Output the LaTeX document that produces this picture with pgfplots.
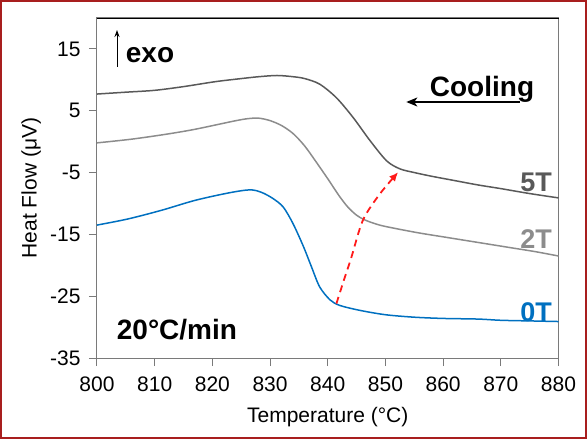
\documentclass[border=0pt]{standalone}
\usepackage{fontspec}
\setmainfont{Liberation Sans}
\usepackage{pgfplots}
\pgfplotsset{compat=1.18}
\usetikzlibrary{arrows.meta}
\definecolor{c5}{HTML}{595959}
\definecolor{c2}{HTML}{8C8C8C}
\definecolor{c0}{HTML}{0070C0}
\definecolor{frm}{HTML}{A81E1E}
\definecolor{axg}{HTML}{7A7A7A}
\definecolor{arr}{HTML}{FF1A1A}
\begin{document}
\begin{tikzpicture}
\path[use as bounding box] (-97pt,-81pt) rectangle (491pt,358pt);
\begin{axis}[
  at={(0,0)}, anchor=south west,
  scale only axis, width=461.5pt, height=340pt,
  xmin=800, xmax=880, ymin=-35, ymax=20,
  xtick={800,810,820,830,840,850,860,870,880},
  xticklabels={800,810,820,830,840,850,860,870,880},
  ytick={-35,-25,-15,-5,5,15},
  yticklabels={-35,-25,-15,-5,5,15},
  tick align=outside, tick pos=left,
  major tick length=8pt,
  tick style={axg, line width=1pt},
  axis line style={axg, line width=1pt},
  ticklabel style={font=\fontsize{21}{24}\selectfont},
  xticklabel style={yshift=-7pt},
  yticklabel style={xshift=-5pt},
  xlabel={Temperature (°C)},
  ylabel={Heat Flow (μV)},
  every axis x label/.style={at={(axis description cs:0.5,-0.191)},anchor=base,font=\fontsize{21}{24}\selectfont},
  every axis y label/.style={at={(axis description cs:-0.1307,0.5)},rotate=90,anchor=base,font=\fontsize{21}{24}\selectfont},
  clip=false,
]
% 5T
\addplot[c5, line width=1.5pt, smooth, tension=0.5] coordinates {
(800,7.7) (805,8.0) (810,8.3) (815,8.9) (820.5,9.7) (825,10.2) (828,10.5) (831.2,10.7)
(834,10.5) (836,10.2) (838.6,9.3) (841.5,7.1) (844.4,3.9) (847.3,0.2) (850.2,-3.1)
(852.5,-4.4) (855,-5.0) (858,-5.6) (862,-6.3) (866,-7.0) (870,-7.6) (875,-8.4) (880,-9.1)
};
% 2T
\addplot[c2, line width=1.5pt, smooth, tension=0.5] coordinates {
(800,-0.2) (806,0.4) (812,1.2) (817,2.0) (823.6,3.3) (826,3.7) (828,3.8) (830,3.4)
(832,2.6) (834,1.3) (836,-0.7) (838,-3.3) (840,-6.0) (842,-8.8) (843.5,-10.6) (845,-11.9)
(846.5,-12.7) (849,-13.5) (852,-14.1) (856,-14.8) (860,-15.4) (864,-16.0) (868,-16.6)
(872,-17.2) (876,-17.8) (880,-18.5)
};
% 0T
\addplot[c0, line width=1.5pt, smooth, tension=0.5] coordinates {
(800,-13.5) (805.4,-12.5) (811.2,-11.1) (817,-9.5) (822.8,-8.3) (826.5,-7.8) (828.5,-8.2)
(830.5,-9.2) (832.3,-10.6) (834,-13.3) (835.8,-17.0) (837.2,-20.3) (838.6,-23.5)
(840.4,-25.6) (842.1,-26.5) (845.6,-27.3) (850,-28.0) (855,-28.4) (860,-28.6) (866,-28.7)
(870,-28.9) (875,-29.0) (880,-29.1)
};
% red dashed arrow
\addplot[arr, line width=1.8pt, dash pattern=on 7pt off 5pt, smooth, -{Latex[length=9pt,width=8pt]}] coordinates {
(841.5,-26.2) (842.8,-22.4) (844.1,-18.7) (846.1,-12.7) (849,-8.5) (852.2,-4.95)
};
\end{axis}
\draw[black, line width=0.8pt] (0pt,340pt) -- (461.5pt,340pt);
% annotations (pt coords relative to plot area)
\draw[black, line width=1pt, -{Stealth[length=7pt,width=5pt]}] (20pt,291pt) -- (20pt,328pt);
\node[anchor=base, font=\fontsize{28}{32}\selectfont\bfseries, inner sep=0] at (53pt,295.3pt) {exo};
\node[anchor=base, font=\fontsize{28}{32}\selectfont\bfseries, inner sep=0] at (385pt,261.3pt) {Cooling};
\draw[black, line width=1.3pt, -{Stealth[length=11pt,width=9pt,inset=3pt]}] (423pt,256pt) -- (309.3pt,256pt);
\node[anchor=base east, font=\fontsize{27}{32}\selectfont\bfseries, text=c5, inner sep=0] at (455pt,166.3pt) {5T};
\node[anchor=base east, font=\fontsize{27}{32}\selectfont\bfseries, text=c2, inner sep=0] at (455pt,109.7pt) {2T};
\node[anchor=base east, font=\fontsize{27}{32}\selectfont\bfseries, text=c0, inner sep=0] at (455pt,36.3pt) {0T};
\node[anchor=base west, font=\fontsize{28}{32}\selectfont\bfseries, inner sep=0] at (19.7pt,18.7pt) {20°C/min};
\draw[frm, line width=2pt] (-96pt,-79.5pt) rectangle (489pt,357pt);
\end{tikzpicture}
\end{document}
